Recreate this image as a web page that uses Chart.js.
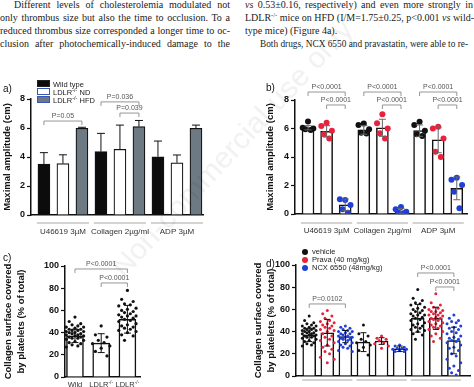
<!DOCTYPE html>
<html>
<head>
<meta charset="utf-8">
<script src="https://cdn.jsdelivr.net/npm/chart.js@4.4.1/dist/chart.umd.min.js"></script>
<style>
  html, body { margin: 0; padding: 0; background: #fff; }
  body { width: 474px; height: 387px; position: relative; overflow: hidden; font-family: 'Liberation Sans', Arial, sans-serif; }
  .txt { position: absolute; font-family: 'Liberation Serif', 'Times New Roman', serif; font-size: 10px; line-height: 13px; white-space: nowrap; color: #222; transform-origin: 0 50%; }
  .txt sup { font-size: 6.5px; line-height: 0; }
  canvas { position: absolute; }
  .tag { position: absolute; font-size: 10px; color: #111; }
  .legend { position: absolute; font-size: 7.5px; color: #222; }
  .legend .li { height: 8px; line-height: 8px; white-space: nowrap; }
  .legend sup { font-size: 5.5px; line-height: 0; }
  .legend .box { display: inline-block; width: 11px; height: 5px; border: 1px solid; margin-right: 3px; vertical-align: 0px; }
  .legend .dot { display: inline-block; width: 6px; height: 6px; border-radius: 50%; margin-right: 4px; vertical-align: -1px; }
  #wm { position: absolute; left: 232px; top: 148px; transform: translate(-50%, -50%) rotate(-47deg);
        font-size: 30px; color: rgba(0, 0, 0, 0.06); white-space: nowrap; pointer-events: none; }
</style>
</head>
<body>

<div class="txt just" data-w="216" style="left:14px; top:-2px;">Different levels of cholesterolemia modulated not</div>
<div class="txt just" data-w="230" style="left:0px; top:11px;">only thrombus size but also the time to occlusion. To a</div>
<div class="txt just" data-w="230" style="left:0px; top:24px;">reduced thrombus size corresponded a longer time to oc-</div>
<div class="txt just" data-w="230" style="left:0px; top:37px;">clusion after photochemically-induced damage to the</div>

<div class="txt just" data-w="228" style="left:245px; top:-2px;"><i>vs</i> 0.53±0.16, respectively) and even more strongly in</div>
<div class="txt just" data-w="229" style="left:245px; top:11px;">LDLR<sup>-/-</sup> mice on HFD (I/M=1.75±0.25, p&lt;0.001 <i>vs</i> wild-</div>
<div class="txt" style="left:245px; top:24px;">type mice) (Figure 4a).</div>
<div class="txt just" data-w="208" style="left:260px; top:37px;">Both drugs, NCX 6550 and pravastatin, were able to re-</div>

<canvas id="chartA" width="210" height="185" style="left:0px; top:60px;"></canvas>
<canvas id="chartB" width="234" height="185" style="left:240px; top:60px;"></canvas>
<canvas id="chartC" width="150" height="142" style="left:0px; top:245px;"></canvas>
<canvas id="chartD" width="234" height="142" style="left:240px; top:245px;"></canvas>

<div class="tag" style="left:3px; top:83px;">a)</div>
<div class="tag" style="left:266px; top:82px;">b)</div>
<div class="tag" style="left:3px; top:252px;">c)</div>
<div class="tag" style="left:266px; top:258px;">d)</div>

<div class="legend" id="legA" style="left:37px; top:80px;"></div>
<div class="legend" id="legD" style="left:302px; top:248px;"></div>

<div id="wm">Non-commercial use only</div>

<script>
// ---------- data ----------
// a) maximal amplitude, bars = mean, errors = SD (upwards only)
const groupsA = ['U46619 3µM', 'Collagen 2µg/ml', 'ADP 3µM'];
const wildA = [3.52, 4.37, 4.02];
const wildErrA = [0.78, 1.26, 1.08];
const ndA = [3.55, 4.53, 3.6];
const ndErrA = [0.6, 1.67, 0.54];
const hfdA = [5.98, 6.09, 5.98];
const hfdErrA = [0.07, 0.43, 0.22];
const ticksA = [0, 2, 4, 6, 8];

// b) maximal amplitude per treatment
const vehicleB = [6.05, 5.9, 5.85];
const vehicleSdB = [0.15, 0.3, 0.4];
const pravaB = [5.8, 6.05, 5.2];
const pravaSdB = [0.4, 0.6, 0.9];
const ncxB = [0.65, 0.2, 1.8];
const ncxSdB = [0.4, 0.2, 0.8];
const vehicleDotsB = [[6.5, 6.05, 6.0, 5.95, 5.9], [6.35, 6.25, 5.95, 5.7, 5.65], [6.48, 6.25, 5.85, 5.6, 5.47]];
const pravaDotsB = [[6.4, 6.17, 5.85, 5.6, 5.3], [7.0, 6.36, 6.0, 5.66, 5.3], [6.13, 6.0, 5.3, 4.37, 4.0]];
const ncxDotsB = [[0.98, 1.03, 0.63, 0.33, 0.09], [0.5, 0.33, 0.16, 0.1, 0.05], [2.55, 2.4, 2.03, 1.57, 0.4]];

// c) collagen surface covered (%)
const labelsC = ['Wild', 'LDLR-/-', 'LDLR-/-'];
const meansC = [37, 30.5, 52];
const sdC = [6, 8.5, 12.5];
const wildDots = [54, 50, 48, 47, 46, 45, 45, 44, 43, 43, 42, 42, 41, 41, 40, 40, 39, 39, 38, 38, 37, 37, 36, 36, 35, 35, 34, 33, 32, 31, 30, 29, 28, 27];
const ndDots = [46, 38, 36, 33, 31, 30, 28, 26, 23, 19];
const hfdDots = [78, 70, 68, 66, 65, 64, 62, 61, 60, 59, 58, 57, 56, 55, 55, 54, 53, 52, 51, 50, 48, 47, 46, 45, 44, 43, 42, 41, 40, 38, 37, 33];
const ticksC = [0, 20, 40, 60, 80, 100];

// d) same groups, with treatments
const treatmentsD = ['vehicle', 'Prava (40 mg/kg)', 'NCX 6550 (48mg/kg)'];
const pravaD = [39, 31.5, 52];
const pravaSdD = [12, 3, 10];
const ncxD = [35.5, 24.5, 32];
const ncxSdD = [5.5, 2.5, 12];
const pravaDotsD = [
  [59, 56, 54, 52, 50, 49, 48, 47, 46, 45, 44, 43, 42, 41, 40, 38, 36, 35, 33, 32, 30, 28, 26, 24, 22, 20, 17, 15, 12],
  [36, 34, 33, 32, 30, 29, 27, 25],
  [74, 66, 64, 62, 61, 60, 59, 58, 58, 57, 56, 55, 55, 54, 53, 52, 52, 51, 50, 49, 48, 47, 46, 45, 44, 43, 42, 40, 38, 36, 34, 31]
];
const ncxDotsD = [
  [45, 44, 43, 42, 41, 40, 40, 39, 38, 38, 37, 36, 36, 35, 35, 34, 33, 33, 32, 31, 30, 29, 28, 27, 26, 25, 23, 22],
  [28, 27, 26, 25, 25, 24, 24, 23, 22, 22],
  [55, 52, 50, 49, 48, 47, 45, 44, 43, 42, 40, 39, 38, 36, 35, 34, 33, 32, 31, 30, 28, 26, 25, 23, 20, 18, 15, 12, 9, 7, 5, 3, 1]
];

// ---------- helpers ----------
Chart.defaults.font.family = "'Liberation Sans', Arial, sans-serif";
Chart.defaults.animation = false;
Chart.defaults.plugins.legend.display = false;
Chart.defaults.plugins.tooltip.enabled = false;

const BLACK = '#111111', RED = '#e8213d', BLUE = '#1f3fd8';
const swarm = [0, -0.22, 0.22, -0.11, 0.11, -0.33, 0.33];

function dotPoints(perBar, spread) {
  // perBar: list of [barIndex, values]
  const pts = [];
  perBar.forEach(([idx, vals]) => {
    vals.forEach((v, k) => pts.push({ x: idx + swarm[k % swarm.length] * spread, y: v }));
  });
  return pts;
}

function yAxis(ticks, width, title) {
  return {
    min: ticks[0], max: ticks[ticks.length - 1],
    afterFit: s => { s.width = width; },
    afterBuildTicks: s => { s.ticks = ticks.map(value => ({ value })); },
    ticks: { color: BLACK, font: { size: 9, weight: 'bold' }, padding: 2 },
    grid: { drawOnChartArea: false, drawTicks: true, tickLength: 4, tickColor: BLACK, tickWidth: 1.2 },
    border: { color: BLACK, width: 1.5 },
    title: { display: true, text: title, color: BLACK, font: { size: 9.5, weight: 'bold', lineHeight: 1.37 }, padding: 0 }
  };
}

function xAxis(min, max, height) {
  return {
    type: 'linear', min, max, offset: false,
    afterFit: s => { s.height = height; },
    ticks: { display: false },
    grid: { display: false, offset: false },
    border: { color: BLACK, width: 1.5 }
  };
}

const errorBars = {
  id: 'errorBars',
  afterDatasetsDraw(chart, args, opts) {
    const ctx = chart.ctx, y = chart.scales.y;
    ctx.save();
    ctx.strokeStyle = opts.color;
    ctx.lineWidth = opts.width;
    chart.data.datasets.forEach((ds, i) => {
      if (!ds.errors) return;
      chart.getDatasetMeta(i).data.forEach((bar, j) => {
        const v = ds.data[j].y, e = ds.errors[j];
        const top = y.getPixelForValue(v + e);
        const bot = opts.both ? y.getPixelForValue(v - e) : bar.y;
        const c = opts.cap / 2;
        ctx.beginPath();
        ctx.moveTo(bar.x, bot); ctx.lineTo(bar.x, top);
        ctx.moveTo(bar.x - c, top); ctx.lineTo(bar.x + c, top);
        if (opts.both) { ctx.moveTo(bar.x - c, bot); ctx.lineTo(bar.x + c, bot); }
        ctx.stroke();
      });
    });
    ctx.restore();
  }
};

const brackets = {
  id: 'brackets',
  afterDraw(chart, args, opts) {
    const ctx = chart.ctx, x = chart.scales.x, y = chart.scales.y;
    ctx.save();
    ctx.strokeStyle = '#8a8a8a';
    ctx.fillStyle = '#555';
    ctx.lineWidth = 0.9;
    ctx.font = "7px 'Liberation Sans', Arial, sans-serif";
    ctx.textAlign = 'center';
    ctx.textBaseline = 'bottom';
    opts.items.forEach(b => {
      const x1 = x.getPixelForValue(b.from), x2 = x.getPixelForValue(b.to), yy = y.getPixelForValue(b.y);
      ctx.beginPath();
      ctx.moveTo(x1, yy + 4); ctx.lineTo(x1, yy); ctx.lineTo(x2, yy); ctx.lineTo(x2, yy + 4);
      ctx.stroke();
      ctx.fillText(b.label, (x1 + x2) / 2, yy - 1.5);
    });
    ctx.restore();
  }
};

// labels under the x axis; "-/-" is written as a superscript
const groupLabels = {
  id: 'groupLabels',
  afterDraw(chart, args, opts) {
    const ctx = chart.ctx, x = chart.scales.x, bottom = chart.chartArea.bottom;
    const size = opts.size || 8;
    const mainFont = `${size}px 'Liberation Sans', Arial, sans-serif`;
    const supFont = `${size * 0.65}px 'Liberation Sans', Arial, sans-serif`;
    ctx.save();
    ctx.fillStyle = '#333';
    ctx.textAlign = 'left';
    ctx.textBaseline = 'top';
    opts.items.forEach(g => {
      const x1 = x.getPixelForValue(g.from) - opts.pad, x2 = x.getPixelForValue(g.to) + opts.pad;
      if (opts.line) {
        ctx.strokeStyle = '#a8a8a8';
        ctx.lineWidth = 1.2;
        ctx.beginPath();
        ctx.moveTo(x1, bottom + opts.lineOffset); ctx.lineTo(x2, bottom + opts.lineOffset);
        ctx.stroke();
      }
      if (!g.label) return;
      const [base, ...rest] = g.label.split('-/-');
      const sup = rest.length ? '-/-' : '';
      const tail = rest.join('-/-');
      ctx.font = mainFont; const wb = ctx.measureText(base).width, wt = ctx.measureText(tail).width;
      ctx.font = supFont; const ws = ctx.measureText(sup).width;
      let cx = (x1 + x2) / 2 - (wb + ws + wt) / 2;
      const ty = bottom + opts.textOffset;
      ctx.font = mainFont; ctx.fillText(base, cx, ty); cx += wb;
      ctx.font = supFont; ctx.fillText(sup, cx, ty - 1); cx += ws;
      ctx.font = mainFont; ctx.fillText(tail, cx, ty);
    });
    ctx.restore();
  }
};

const groupItems = labels => labels.map((label, g) => ({ from: g * 3, to: g * 3 + 2, label }));

// ---------- a) ----------
const seriesA = [
  { label: 'Wild type', values: wildA, errors: wildErrA, fill: '#0c0c0c', edge: '#222' },
  { label: 'LDLR-/- ND', values: ndA, errors: ndErrA, fill: '#ffffff', edge: '#3a55b8' },
  { label: 'LDLR-/- HFD', values: hfdA, errors: hfdErrA, fill: '#6d7a83', edge: '#3a55b8' }
];

new Chart(document.getElementById('chartA'), {
  type: 'bar',
  data: {
    datasets: seriesA.map((s, k) => ({
      label: s.label,
      data: s.values.map((v, g) => ({ x: g * 3 + k, y: v })),
      errors: s.errors,
      backgroundColor: s.fill,
      borderColor: BLACK,
      borderWidth: 1.2,
      barThickness: 12,
      grouped: false
    }))
  },
  options: {
    responsive: false,
    layout: { padding: { left: 1, top: 39, right: 7, bottom: 0 } },
    scales: { x: xAxis(-0.68, 8.37, 30), y: yAxis(ticksA, 30, 'Maximal amplitude (cm)') },
    plugins: {
      errorBars: { color: BLACK, width: 1, cap: 8, both: false },
      brackets: { items: [
        { from: 0, to: 2, y: 6.48, label: 'P=0.05' },
        { from: 3, to: 5, y: 7.8, label: 'P=0.036' },
        { from: 4, to: 5, y: 7.03, label: 'P=0.039' }
      ] },
      groupLabels: { items: groupItems(groupsA), pad: 7, line: true, lineOffset: 8, textOffset: 13 }
    }
  },
  plugins: [errorBars, brackets, groupLabels]
});

const legA = document.getElementById('legA');
seriesA.forEach(s => {
  legA.insertAdjacentHTML('beforeend',
    `<div class="li"><span class="box" style="background:${s.fill};border-color:${s.edge}"></span>${s.label.replace('-/-', '<sup>-/-</sup>')}</div>`);
});

// ---------- b) ----------
const treatB = [
  { means: vehicleB, sd: vehicleSdB, dots: vehicleDotsB, color: BLACK },
  { means: pravaB, sd: pravaSdB, dots: pravaDotsB, color: RED },
  { means: ncxB, sd: ncxSdB, dots: ncxDotsB, color: BLUE }
];
const barsB = [], errB = [];
groupsA.forEach((_, g) => treatB.forEach((t, k) => { barsB.push({ x: g * 3 + k, y: t.means[g] }); errB.push(t.sd[g]); }));

new Chart(document.getElementById('chartB'), {
  type: 'bar',
  data: {
    datasets: [
      { type: 'bar', data: barsB, errors: errB, backgroundColor: '#fff', borderColor: BLACK, borderWidth: 1.5, barThickness: 12, grouped: false, order: 1 },
      ...treatB.map((t, k) => ({
        type: 'scatter',
        data: dotPoints(t.dots.map((vals, g) => [g * 3 + k, vals]), 1.3),
        pointRadius: 3, pointBackgroundColor: t.color, pointBorderWidth: 0, order: 0
      }))
    ]
  },
  options: {
    responsive: false,
    layout: { padding: { left: 24, top: 40, right: 7, bottom: 0 } },
    scales: { x: xAxis(-0.7, 8.55, 31), y: yAxis(ticksA, 31, 'Maximal amplitude (cm)') },
    plugins: {
      errorBars: { color: '#666', width: 1, cap: 7, both: true },
      brackets: { items: [0, 3, 6].flatMap(s => [
        { from: s, to: s + 2, y: 8.56, label: 'P<0.0001' },
        { from: s + 1, to: s + 2, y: 7.65, label: 'P<0.0001' }
      ]) },
      groupLabels: { items: groupItems(groupsA), pad: 7, line: true, lineOffset: 9, textOffset: 13 }
    }
  },
  plugins: [errorBars, brackets, groupLabels]
});

// ---------- c) ----------
const dotsC = [wildDots, ndDots, hfdDots];
new Chart(document.getElementById('chartC'), {
  type: 'bar',
  data: {
    datasets: [
      { type: 'bar', data: meansC.map((v, i) => ({ x: i, y: v })), errors: sdC, backgroundColor: '#fff', borderColor: BLACK, borderWidth: 1.5, barThickness: 17, grouped: false, order: 1 },
      { type: 'scatter', data: dotPoints(dotsC.map((vals, i) => [i, vals]), 1.0), pointRadius: 1.6, pointBackgroundColor: BLACK, pointBorderWidth: 0, order: 0 }
    ]
  },
  options: {
    responsive: false,
    layout: { padding: { left: 2, top: 21, right: 10, bottom: 0 } },
    scales: { x: xAxis(-0.38, 2.48, 10), y: yAxis(ticksC, 63, ['Collagen surface covered', 'by platelets (% of total)']) },
    plugins: {
      errorBars: { color: BLACK, width: 1, cap: 7, both: true },
      brackets: { items: [
        { from: 0, to: 2, y: 97.3, label: 'P<0.0001' },
        { from: 1, to: 2, y: 84.7, label: 'P<0.0001' }
      ] },
      groupLabels: { items: labelsC.map((label, i) => ({ from: i, to: i, label })), pad: 0, line: false, textOffset: 4, size: 7.5 }
    }
  },
  plugins: [errorBars, brackets, groupLabels]
});

// ---------- d) ----------
const treatD = [
  { means: meansC, sd: sdC, dots: dotsC, color: BLACK },
  { means: pravaD, sd: pravaSdD, dots: pravaDotsD, color: RED },
  { means: ncxD, sd: ncxSdD, dots: ncxDotsD, color: BLUE }
];
const barsD = [], errD = [];
labelsC.forEach((_, g) => treatD.forEach((t, k) => { barsD.push({ x: g * 3 + k, y: t.means[g] }); errD.push(t.sd[g]); }));

new Chart(document.getElementById('chartD'), {
  type: 'bar',
  data: {
    datasets: [
      { type: 'bar', data: barsD, errors: errD, backgroundColor: '#fff', borderColor: BLACK, borderWidth: 1.5, barThickness: 13, grouped: false, order: 1 },
      ...treatD.map((t, k) => ({
        type: 'scatter',
        label: treatmentsD[k],
        data: dotPoints(t.dots.map((vals, g) => [g * 3 + k, vals]), 1.15),
        pointRadius: 1.5, pointBackgroundColor: t.color, pointBorderWidth: 0, order: 0
      }))
    ]
  },
  options: {
    responsive: false,
    layout: { padding: { left: 12, top: 20, right: 1, bottom: 0 } },
    scales: { x: xAxis(-0.73, 8.89, 11), y: yAxis(ticksC, 44, ['Collagen surface covered', 'by platelets (% of total)']) },
    plugins: {
      errorBars: { color: BLACK, width: 1, cap: 6, both: true },
      brackets: { items: [
        { from: 0, to: 2, y: 64.9, label: 'P=0.0102' },
        { from: 6, to: 8, y: 92.8, label: 'P<0.0001' },
        { from: 7, to: 8, y: 80.2, label: 'P<0.0001' }
      ] },
      groupLabels: { items: groupItems(['', '', '']), pad: 7, line: true, lineOffset: 4, textOffset: 12 }
    }
  },
  plugins: [errorBars, brackets, groupLabels]
});

const legD = document.getElementById('legD');
treatD.forEach((t, k) => {
  legD.insertAdjacentHTML('beforeend',
    `<div class="li"><span class="dot" style="background:${t.color}"></span>${treatmentsD[k]}</div>`);
});

// fit each text line to its column width: stretch spaces, or squeeze if too long
document.querySelectorAll('.just').forEach(el => {
  const target = parseFloat(el.dataset.w);
  const natural = el.getBoundingClientRect().width;
  const spaces = (el.textContent.match(/ /g) || []).length;
  if (natural <= target) {
    el.style.wordSpacing = ((target - natural) / spaces) + 'px';
  } else {
    el.style.transform = `scaleX(${target / natural})`;
  }
});
</script>
</body>
</html>
